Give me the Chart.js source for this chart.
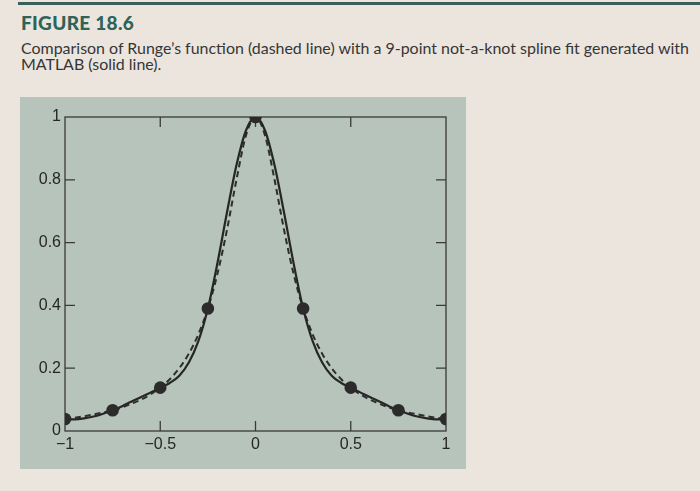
<!DOCTYPE html>
<html>
<head>
<meta charset="utf-8">
<script src="https://cdn.jsdelivr.net/npm/chart.js@4.4.1/dist/chart.umd.min.js"></script>
<style>
  html, body { margin: 0; padding: 0; }
  body { width: 700px; height: 491px; background: #ebe5de; position: relative; overflow: hidden; font-family: Lato, "Open Sans", sans-serif; }
  #regla { position: absolute; left: 18px; top: 2px; width: 682px; height: 3px; background: #3b5e57; }
  #titulo { position: absolute; left: 21px; top: 11px; font-size: 19px; font-weight: 900; color: #2f6358; letter-spacing: 0.3px; }
  .linea { position: absolute; left: 21px; font-size: 16px; color: #363636; white-space: nowrap; transform-origin: 0 0; display: inline-block; }
  #l1 { top: 38px; }
  #l2 { top: 54px; }
  #panel { position: absolute; left: 20px; top: 97px; width: 446px; height: 372px; background: #b6c4bb; }
  #grafica { display: block; }
</style>
</head>
<body>
<div id="regla"></div>
<div id="titulo">FIGURE 18.6</div>
<div class="linea" id="l1">Comparison of Runge’s function (dashed line) with a 9-point not-a-knot spline fit generated with</div>
<div class="linea" id="l2">MATLAB (solid line).</div>
<div id="panel"><canvas id="grafica" width="446" height="372"></canvas></div>
<script>
// puntos de la curva (paso 0.05)
var x_curva = [-1, -0.95, -0.9, -0.85, -0.8, -0.75, -0.7, -0.65, -0.6, -0.55, -0.5, -0.45, -0.4, -0.35, -0.3, -0.25, -0.2, -0.15, -0.1, -0.05,
  0, 0.05, 0.1, 0.15, 0.2, 0.25, 0.3, 0.35, 0.4, 0.45, 0.5, 0.55, 0.6, 0.65, 0.7, 0.75, 0.8, 0.85, 0.9, 0.95, 1]
// funcion de Runge (linea punteada)
var y_runge = [0.038, 0.042, 0.047, 0.053, 0.059, 0.066, 0.075, 0.087, 0.100, 0.117, 0.138, 0.165, 0.200, 0.246, 0.308, 0.390, 0.500, 0.640, 0.800, 0.941,
  1.000, 0.941, 0.800, 0.640, 0.500, 0.390, 0.308, 0.246, 0.200, 0.165, 0.138, 0.117, 0.100, 0.087, 0.075, 0.066, 0.059, 0.053, 0.047, 0.042, 0.038]
// spline not-a-knot (linea continua)
var y_spline = [0.038, 0.037, 0.040, 0.046, 0.055, 0.066, 0.079, 0.094, 0.108, 0.123, 0.138, 0.153, 0.176, 0.218, 0.286, 0.390, 0.534, 0.695, 0.846, 0.957,
  1.000, 0.957, 0.846, 0.695, 0.534, 0.390, 0.286, 0.218, 0.176, 0.153, 0.138, 0.123, 0.108, 0.094, 0.079, 0.066, 0.055, 0.046, 0.040, 0.037, 0.038]
// los 9 nodos
var x_nodos = [-1, -0.75, -0.5, -0.25, 0, 0.25, 0.5, 0.75, 1]
var y_nodos = [0.038, 0.066, 0.138, 0.390, 1.000, 0.390, 0.138, 0.066, 0.038]
var ticks_x = [-0.5, 0, 0.5]
var ticks_y = [0.2, 0.4, 0.6, 0.8]

function juntar(xs, ys) {
  return xs.map(function (x, i) { return { x: x, y: ys[i] } })
}

// marco y marcas hacia adentro en los cuatro lados
var marco = {
  id: 'marco',
  beforeDatasetsDraw: function (chart) {
    var c = chart.ctx, a = chart.chartArea, sx = chart.scales.x, sy = chart.scales.y
    var largo = 10
    c.save()
    c.strokeStyle = '#3a3a3a'
    c.lineWidth = 1.3
    c.strokeRect(a.left, a.top, a.right - a.left, a.bottom - a.top)
    c.beginPath()
    ticks_x.forEach(function (v) {
      var px = sx.getPixelForValue(v)
      c.moveTo(px, a.bottom); c.lineTo(px, a.bottom - largo)
      c.moveTo(px, a.top); c.lineTo(px, a.top + largo)
    })
    ticks_y.forEach(function (v) {
      var py = sy.getPixelForValue(v)
      c.moveTo(a.left, py); c.lineTo(a.left + largo, py)
      c.moveTo(a.right, py); c.lineTo(a.right - largo, py)
    })
    c.stroke()
    c.restore()
  }
}

Chart.defaults.font.family = "'Liberation Sans', Arial, sans-serif"
Chart.defaults.font.size = 16
Chart.defaults.color = '#262626'

new Chart(document.getElementById('grafica'), {
  type: 'scatter',
  data: {
    datasets: [
      {
        label: 'nodos', data: juntar(x_nodos, y_nodos), showLine: false,
        pointRadius: 6.3, pointBackgroundColor: '#2b2b2b', pointBorderColor: '#2b2b2b', pointBorderWidth: 0, order: 0
      },
      {
        label: 'spline', data: juntar(x_curva, y_spline), showLine: true, pointRadius: 0,
        borderColor: '#262626', borderWidth: 2.2, cubicInterpolationMode: 'monotone', order: 1
      },
      {
        label: 'runge', data: juntar(x_curva, y_runge), showLine: true, pointRadius: 0,
        borderColor: '#2e2e2e', borderWidth: 2, borderDash: [6, 4], cubicInterpolationMode: 'monotone', order: 2
      }
    ]
  },
  options: {
    responsive: false,
    animation: false,
    layout: { padding: { top: 20, right: 20, left: 0, bottom: 0 } },
    plugins: { legend: { display: false }, tooltip: { enabled: false } },
    scales: {
      x: {
        type: 'linear', min: -1, max: 1,
        grid: { display: false, drawTicks: false }, border: { display: false },
        afterFit: function (s) { s.height = 38 },
        ticks: {
          stepSize: 0.5, padding: 4, color: '#262626',
          font: { size: 16 },
          callback: function (v) { return v < 0 ? '\u2212' + Math.abs(v) : String(v) }
        }
      },
      y: {
        min: 0, max: 1,
        grid: { display: false, drawTicks: false }, border: { display: false },
        afterFit: function (s) { s.width = 45 },
        ticks: {
          stepSize: 0.2, padding: 4, color: '#262626',
          font: { size: 16 },
          callback: function (v) { return String(Math.round(v * 10) / 10) }
        }
      }
    }
  },
  plugins: [marco]
})

// ajustar el ancho del pie de figura
var l1 = document.getElementById('l1')
var l2 = document.getElementById('l2')
var escala = 668 / l1.getBoundingClientRect().width
l1.style.transform = 'scaleX(' + escala + ')'
l2.style.transform = 'scaleX(' + escala + ')'
</script>
</body>
</html>
